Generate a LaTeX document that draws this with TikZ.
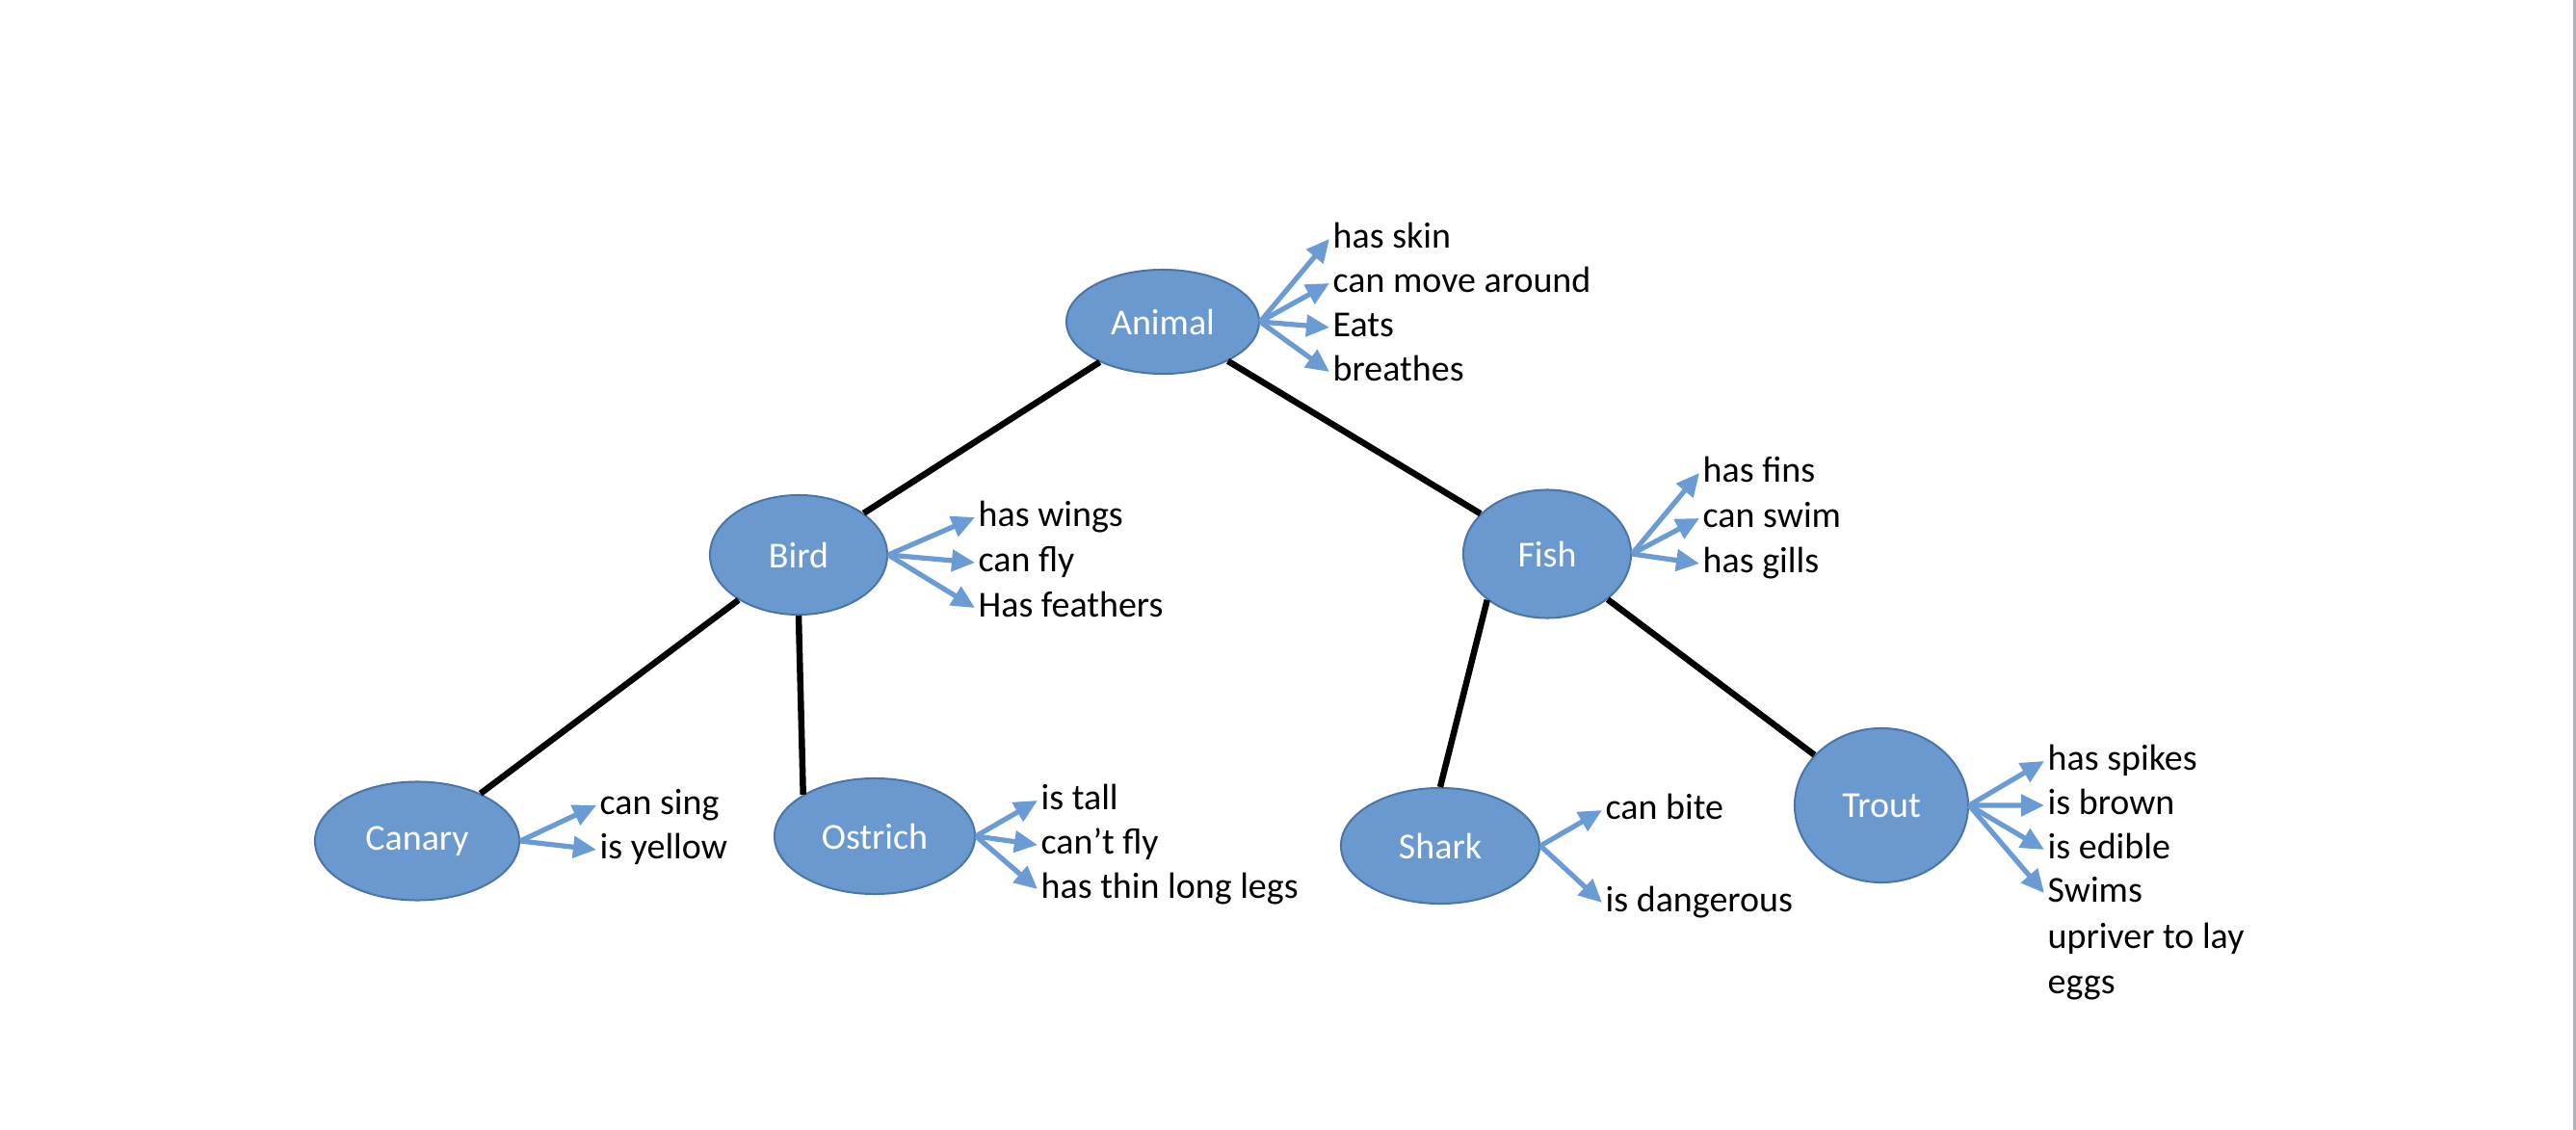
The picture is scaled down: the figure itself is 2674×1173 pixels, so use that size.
\documentclass[tikz,border=0pt]{standalone}
\usepackage{fontspec}
\setmainfont{Carlito}
\usetikzlibrary{arrows.meta,shapes.geometric}
\definecolor{nodefill}{RGB}{106,153,207}
\definecolor{nodeline}{RGB}{74,117,168}
\definecolor{arrowblue}{RGB}{106,155,212}
\definecolor{edgegray}{RGB}{176,180,186}
\newcommand\diagfont{\fontsize{10.8pt}{13.5pt}\selectfont}
\begin{document}
\begin{tikzpicture}[x=0.01cm,y=-0.01cm,
  concept/.style={ellipse, fill=nodefill, draw=nodeline, line width=0.02cm,
    inner sep=0pt, text=white, font=\diagfont},
  attr/.style={anchor=west, inner sep=0.03cm, text height=0.28cm, text depth=0.09cm,
    font=\diagfont, text=black, yshift=-0.02cm},
  attrblock/.style={anchor=north west, inner sep=0.03cm, align=left,
    font=\diagfont, text=black},
  link/.style={draw=black, line width=0.065cm},
  arr/.style={draw=arrowblue, line width=0.052cm,
    -{Triangle[length=0.24cm,width=0.22cm]}}]
\useasboundingbox (0,0) rectangle (2674,1173);
\fill[white] (0,0) rectangle (2674,1173);
\draw[edgegray, line width=0.03cm] (2672,0) -- (2672,1173);

% concept nodes
\node[concept, minimum width=2.00cm, minimum height=1.08cm] (animal) at (1207,334) {Animal};
\node[concept, minimum width=1.84cm, minimum height=1.24cm] (bird) at (829,576) {Bird};
\node[concept, minimum width=1.74cm, minimum height=1.33cm] (fish) at (1606,575) {Fish};
\node[concept, minimum width=2.12cm, minimum height=1.23cm] (canary) at (433,873) {Canary};
\node[concept, minimum width=2.08cm, minimum height=1.20cm] (ostrich) at (908,868) {Ostrich};
\node[concept, minimum width=2.06cm, minimum height=1.20cm] (shark) at (1495,878) {Shark};
\node[concept, minimum width=1.80cm, minimum height=1.60cm] (trout) at (1953,836) {Trout};

% hierarchy
\draw[link] (animal) -- (bird);
\draw[link] (animal) -- (fish);
\draw[link] (bird) -- (canary);
\draw[link] (bird.south) -- (ostrich.north west);
\draw[link] (fish.south west) -- (shark.north);
\draw[link] (fish) -- (trout);

% Animal attributes
\node[attr] (a1) at (1380,246) {has skin};
\node[attr] (a2) at (1380,292) {can move around};
\node[attr] (a3) at (1380,338) {Eats};
\node[attr] (a4) at (1380,384) {breathes};
\foreach \t in {a1,a2,a3,a4} \draw[arr] (animal.east) -- (\t.west);

% Bird attributes
\node[attr] (b1) at (1012,535) {has wings};
\node[attr] (b2) at (1012,582) {can fly};
\node[attr] (b3) at (1012,629) {Has feathers};
\foreach \t in {b1,b2,b3} \draw[arr] (bird.east) -- (\t.west);

% Fish attributes
\node[attr] (f1) at (1764,489) {has fins};
\node[attr] (f2) at (1764,536) {can swim};
\node[attr] (f3) at (1764,583) {has gills};
\foreach \t in {f1,f2,f3} \draw[arr] (fish.east) -- (\t.west);

% Canary attributes
\node[attr] (c1) at (619,834) {can sing};
\node[attr] (c2) at (619,880) {is yellow};
\foreach \t in {c1,c2} \draw[arr] (canary.east) -- (\t.west);

% Ostrich attributes
\node[attr] (o1) at (1077,829) {is tall};
\node[attr] (o2) at (1077,875) {can’t fly};
\node[attr] (o3) at (1077,921) {has thin long legs};
\foreach \t in {o1,o2,o3} \draw[arr] (ostrich.east) -- (\t.west);

% Shark attributes
\node[attr] (s1) at (1663,839) {can bite};
\node[attr] (s2) at (1663,935) {is dangerous};
\foreach \t in {s1,s2} \draw[arr] (shark.east) -- (\t.west);

% Trout attributes
\node[attr] (t1) at (2122,788) {has spikes};
\node[attr] (t2) at (2122,834) {is brown};
\node[attr] (t3) at (2122,880) {is edible};
\node[attrblock] (t4) at (2122,907) {Swims\\upriver to lay\\eggs};
\foreach \t in {t1,t2,t3} \draw[arr] (trout.east) -- (\t.west);
\draw[arr] (trout.east) -- ([yshift=-0.2cm]t4.north west);
\end{tikzpicture}
\end{document}
